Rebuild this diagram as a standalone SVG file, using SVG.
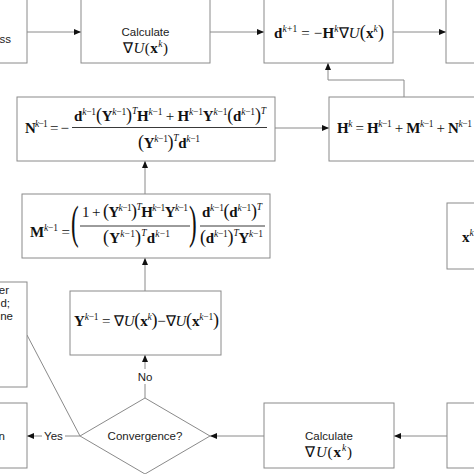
<svg xmlns="http://www.w3.org/2000/svg" width="474" height="474" viewBox="0 0 474 474">
<defs>
<style>
.box{fill:#fff;stroke:#8a8a8a;stroke-width:1}
.ln{fill:none;stroke:#8a8a8a;stroke-width:1}
.bar{stroke:#222;stroke-width:0.9}
.lbl{font-family:"Liberation Sans",Arial,sans-serif;font-size:11.5px;fill:#222}
.m{font-family:"Liberation Serif","Times New Roman",serif;font-size:15px;fill:#111}
.b{font-weight:bold}
.i{font-style:italic}
.s{font-size:9.5px}
.p{font-size:18px}
.big{font-family:"Liberation Serif","Times New Roman",serif;font-size:46px;fill:#111}
</style>
<marker id="ar" markerUnits="userSpaceOnUse" markerWidth="8" markerHeight="6" refX="7" refY="3" orient="auto">
<path d="M0,0 L7,3 L0,6 z" fill="#111"/>
</marker>
</defs>
<rect width="474" height="474" fill="#fff"/>

<g id="connectors">
<line class="ln" x1="27" y1="32" x2="81" y2="32" marker-end="url(#ar)"/>
<line class="ln" x1="210" y1="32" x2="264" y2="32" marker-end="url(#ar)"/>
<line class="ln" x1="393" y1="32" x2="446" y2="32" marker-end="url(#ar)"/>
<polyline class="ln" points="404,97 404,80 328,80 328,63" marker-end="url(#ar)"/>
<line class="ln" x1="275" y1="128" x2="329" y2="128" marker-end="url(#ar)"/>
<line class="ln" x1="145" y1="194" x2="145" y2="161" marker-end="url(#ar)"/>
<line class="ln" x1="145" y1="291" x2="145" y2="258" marker-end="url(#ar)"/>
<line class="ln" x1="145" y1="398" x2="145" y2="384"/>
<line class="ln" x1="145" y1="369" x2="145" y2="355" marker-end="url(#ar)"/>
<text class="lbl" x="145" y="381" text-anchor="middle">No</text>
<line class="ln" x1="80" y1="436" x2="65" y2="436"/>
<line class="ln" x1="42" y1="436" x2="27" y2="436" marker-end="url(#ar)"/>
<text class="lbl" x="53.5" y="440" text-anchor="middle">Yes</text>
<line class="ln" x1="264" y1="436" x2="210" y2="436" marker-end="url(#ar)"/>
<line class="ln" x1="447" y1="436" x2="394" y2="436" marker-end="url(#ar)"/>
<line class="ln" x1="27" y1="335" x2="80" y2="436"/>
</g>

<g id="node-process-top">
<rect class="box" x="-10" y="-10" width="37" height="73"/>
<text class="lbl" x="11" y="43" text-anchor="end">ss</text>
</g>

<g id="node-calc-top">
<rect class="box" x="81" y="-10" width="129" height="73"/>
<text class="lbl" x="145.5" y="36" text-anchor="middle">Calculate</text>
<text class="m" x="123" y="53" textLength="45">∇<tspan class="i">U</tspan>(<tspan class="b">x</tspan><tspan class="s i" dy="-6">k</tspan><tspan dy="6">)</tspan></text>
</g>

<g id="node-direction">
<rect class="box" x="264" y="-10" width="129" height="73"/>
<text class="m" x="274" y="38" textLength="110"><tspan class="b">d</tspan><tspan class="s" dy="-6"><tspan class="i">k</tspan>+1</tspan><tspan dy="6"> = −</tspan><tspan class="b">H</tspan><tspan class="s i" dy="-6">k</tspan><tspan dy="6">∇</tspan><tspan class="i">U</tspan><tspan class="p">(</tspan><tspan class="b">x</tspan><tspan class="s i" dy="-6">k</tspan><tspan dy="6" class="p">)</tspan></text>
</g>

<g id="node-top-right">
<rect class="box" x="446" y="-10" width="40" height="73"/>
</g>

<g id="node-N">
<rect class="box" x="17" y="97" width="258" height="64"/>
<text class="m" x="25" y="133" textLength="44"><tspan class="b">N</tspan><tspan class="s" dy="-6"><tspan class="i">k</tspan>−1</tspan><tspan dy="6"> = −</tspan></text>
<text class="m" x="74" y="121" textLength="192"><tspan class="b">d</tspan><tspan class="s" dy="-6"><tspan class="i">k</tspan>−1</tspan><tspan dy="6" class="p">(</tspan><tspan class="b">Y</tspan><tspan class="s" dy="-6"><tspan class="i">k</tspan>−1</tspan><tspan dy="6" class="p">)</tspan><tspan class="s i" dy="-7">T</tspan><tspan dy="7" class="b">H</tspan><tspan class="s" dy="-6"><tspan class="i">k</tspan>−1</tspan><tspan dy="6"> + </tspan><tspan class="b">H</tspan><tspan class="s" dy="-6"><tspan class="i">k</tspan>−1</tspan><tspan dy="6" class="b">Y</tspan><tspan class="s" dy="-6"><tspan class="i">k</tspan>−1</tspan><tspan dy="6" class="p">(</tspan><tspan class="b">d</tspan><tspan class="s" dy="-6"><tspan class="i">k</tspan>−1</tspan><tspan dy="6" class="p">)</tspan><tspan class="s i" dy="-7">T</tspan></text>
<line class="bar" x1="72" y1="127.5" x2="267" y2="127.5"/>
<text class="m" x="138" y="148" textLength="62"><tspan class="p">(</tspan><tspan class="b">Y</tspan><tspan class="s" dy="-6"><tspan class="i">k</tspan>−1</tspan><tspan dy="6" class="p">)</tspan><tspan class="s i" dy="-7">T</tspan><tspan dy="7" class="b">d</tspan><tspan class="s" dy="-6"><tspan class="i">k</tspan>−1</tspan></text>
</g>

<g id="node-H">
<rect class="box" x="329" y="97" width="160" height="64"/>
<text class="m" x="337" y="133" textLength="135"><tspan class="b">H</tspan><tspan class="s i" dy="-6">k</tspan><tspan dy="6"> = </tspan><tspan class="b">H</tspan><tspan class="s" dy="-6"><tspan class="i">k</tspan>−1</tspan><tspan dy="6"> + </tspan><tspan class="b">M</tspan><tspan class="s" dy="-6"><tspan class="i">k</tspan>−1</tspan><tspan dy="6"> + </tspan><tspan class="b">N</tspan><tspan class="s" dy="-6"><tspan class="i">k</tspan>−1</tspan></text>
</g>

<g id="node-M">
<rect class="box" x="22" y="194" width="248" height="64"/>
<text class="m" x="30" y="237" textLength="40"><tspan class="b">M</tspan><tspan class="s" dy="-6"><tspan class="i">k</tspan>−1</tspan><tspan dy="6"> =</tspan></text>
<text class="big" transform="translate(71,238) scale(0.5,1)">(</text>
<text class="m" x="82" y="217" textLength="106">1 + <tspan class="p">(</tspan><tspan class="b">Y</tspan><tspan class="s" dy="-6"><tspan class="i">k</tspan>−1</tspan><tspan dy="6" class="p">)</tspan><tspan class="s i" dy="-7">T</tspan><tspan dy="7" class="b">H</tspan><tspan class="s" dy="-6"><tspan class="i">k</tspan>−1</tspan><tspan dy="6" class="b">Y</tspan><tspan class="s" dy="-6"><tspan class="i">k</tspan>−1</tspan></text>
<line class="bar" x1="80" y1="226" x2="190" y2="226"/>
<text class="m" x="103" y="243" textLength="67"><tspan class="p">(</tspan><tspan class="b">Y</tspan><tspan class="s" dy="-6"><tspan class="i">k</tspan>−1</tspan><tspan dy="6" class="p">)</tspan><tspan class="s i" dy="-7">T</tspan><tspan dy="7" class="b">d</tspan><tspan class="s" dy="-6"><tspan class="i">k</tspan>−1</tspan></text>
<text class="big" transform="translate(189,238) scale(0.5,1)">)</text>
<text class="m" x="202" y="217" textLength="60"><tspan class="b">d</tspan><tspan class="s" dy="-6"><tspan class="i">k</tspan>−1</tspan><tspan dy="6" class="p">(</tspan><tspan class="b">d</tspan><tspan class="s" dy="-6"><tspan class="i">k</tspan>−1</tspan><tspan dy="6" class="p">)</tspan><tspan class="s i" dy="-7">T</tspan></text>
<line class="bar" x1="200" y1="226" x2="265" y2="226"/>
<text class="m" x="200" y="243" textLength="63"><tspan class="p">(</tspan><tspan class="b">d</tspan><tspan class="s" dy="-6"><tspan class="i">k</tspan>−1</tspan><tspan dy="6" class="p">)</tspan><tspan class="s i" dy="-7">T</tspan><tspan dy="7" class="b">Y</tspan><tspan class="s" dy="-6"><tspan class="i">k</tspan>−1</tspan></text>
</g>

<g id="node-x-right">
<rect class="box" x="447" y="203" width="40" height="66"/>
<text class="m" x="462" y="242"><tspan class="b">x</tspan><tspan class="s i" dy="-6">k</tspan></text>
</g>

<g id="node-Y">
<rect class="box" x="70" y="291" width="151" height="64"/>
<text class="m" x="74" y="326" textLength="145"><tspan class="b">Y</tspan><tspan class="s" dy="-6"><tspan class="i">k</tspan>−1</tspan><tspan dy="6"> = ∇</tspan><tspan class="i">U</tspan><tspan class="p">(</tspan><tspan class="b">x</tspan><tspan class="s i" dy="-6">k</tspan><tspan dy="6" class="p">)</tspan>−∇<tspan class="i">U</tspan><tspan class="p">(</tspan><tspan class="b">x</tspan><tspan class="s" dy="-6"><tspan class="i">k</tspan>−1</tspan><tspan dy="6" class="p">)</tspan></text>
</g>

<g id="node-note">
<rect class="box" x="-10" y="282" width="37" height="105"/>
<text class="lbl" x="9" y="294" text-anchor="end">er</text>
<text class="lbl" x="10" y="307" text-anchor="end">d;</text>
<text class="lbl" x="13" y="320" text-anchor="end">ne</text>
</g>

<g id="node-convergence">
<polygon class="box" points="145,398 210,436 145,474 80,436"/>
<text class="lbl" x="145" y="440" text-anchor="middle">Convergence?</text>
</g>

<g id="node-end">
<rect class="box" x="-10" y="403" width="37" height="65"/>
<text class="lbl" x="5" y="440" text-anchor="end">n</text>
</g>

<g id="node-calc-bottom">
<rect class="box" x="264" y="403" width="130" height="65"/>
<text class="lbl" x="329" y="440" text-anchor="middle">Calculate</text>
<text class="m" x="305" y="457" textLength="47">∇<tspan class="i">U</tspan>(<tspan class="b">x</tspan><tspan class="s i" dy="-6">k</tspan><tspan dy="6">)</tspan></text>
</g>

<g id="node-bottom-right">
<rect class="box" x="447" y="403" width="40" height="65"/>
</g>
</svg>
